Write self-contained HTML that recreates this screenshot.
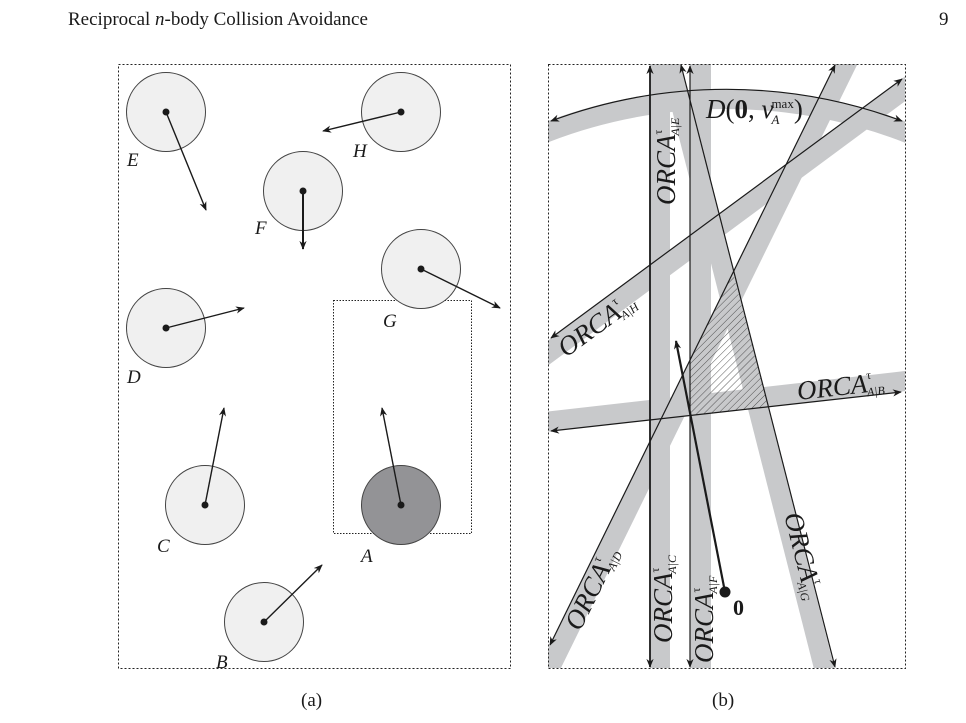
<!DOCTYPE html>
<html><head><meta charset="utf-8"><style>
html,body{margin:0;padding:0;background:#fff;width:966px;height:723px;overflow:hidden;}
svg{display:block;}
text{font-family:"Liberation Serif",serif;fill:#1a1a1a;}
</style></head><body>
<svg width="966" height="723" viewBox="0 0 966 723" xmlns="http://www.w3.org/2000/svg" overflow="hidden">
<defs>
<marker id="ah" viewBox="0 0 10 10" refX="9" refY="5" markerWidth="9" markerHeight="9" markerUnits="userSpaceOnUse" orient="auto-start-reverse">
<path d="M0,1 L10,5 L0,9 L3,5 z" fill="#1a1a1a"/></marker>
<pattern id="hatch" width="5" height="5" patternUnits="userSpaceOnUse" patternTransform="rotate(45)">
<line x1="0" y1="0" x2="0" y2="5" stroke="#333" stroke-width="0.8"/></pattern>
<clipPath id="rc"><rect x="548" y="64" width="357" height="604"/></clipPath>
</defs>

<text x="68" y="25" font-size="19">Reciprocal <tspan font-style="italic">n</tspan>-body Collision Avoidance</text>
<text x="939" y="25" font-size="19">9</text>

<!-- left panel -->
<rect x="118.5" y="64.5" width="392" height="604" fill="none" stroke="#222" stroke-dasharray="2,2"/>
<rect x="333.5" y="300.5" width="138" height="233" fill="none" stroke="#222" stroke-dasharray="1.5,1.5"/>
<g stroke="#444" stroke-width="1" fill="#f0f0f0">
<circle cx="166" cy="112" r="39.5"/>
<circle cx="401" cy="112" r="39.5"/>
<circle cx="303" cy="191" r="39.5"/>
<circle cx="421" cy="269" r="39.5"/>
<circle cx="166" cy="328" r="39.5"/>
<circle cx="205" cy="505" r="39.5"/>
<circle cx="401" cy="505" r="39.5" fill="#939396"/>
<circle cx="264" cy="622" r="39.5"/>
</g>
<g stroke="#1a1a1a" stroke-width="1.4" marker-end="url(#ah)">
<line x1="166" y1="112" x2="206" y2="210"/>
<line x1="401" y1="112" x2="323" y2="131"/>
<line x1="303" y1="191" x2="303" y2="249" stroke-width="2"/>
<line x1="421" y1="269" x2="500" y2="308"/>
<line x1="166" y1="328" x2="244" y2="308"/>
<line x1="205" y1="505" x2="224" y2="408"/>
<line x1="401" y1="505" x2="382" y2="408"/>
<line x1="264" y1="622" x2="322" y2="565"/>
</g>
<g fill="#1a1a1a">
<circle cx="166" cy="112" r="3.5"/><circle cx="401" cy="112" r="3.5"/><circle cx="303" cy="191" r="3.5"/>
<circle cx="421" cy="269" r="3.5"/><circle cx="166" cy="328" r="3.5"/><circle cx="205" cy="505" r="3.5"/>
<circle cx="401" cy="505" r="3.5"/><circle cx="264" cy="622" r="3.5"/>
</g>
<g font-size="19" font-style="italic">
<text x="127" y="166">E</text><text x="353" y="157">H</text><text x="255" y="234">F</text>
<text x="383" y="327">G</text><text x="127" y="383">D</text><text x="157" y="552">C</text>
<text x="361" y="562">A</text><text x="216" y="668">B</text>
</g>
<text x="301" y="706" font-size="19">(a)</text>
<text x="712" y="706" font-size="19">(b)</text>

<!-- right panel -->
<g clip-path="url(#rc)" fill="none" stroke="#c8c9cb">
<circle cx="726" cy="601" r="502" stroke-width="20"/>
<line x1="660" y1="0" x2="660" y2="723" stroke-width="20"/>
<line x1="700.5" y1="0" x2="700.5" y2="723" stroke-width="21"/>
<line x1="659" y1="18" x2="837" y2="719" stroke-width="20"/>
<line x1="866" y1="24" x2="537" y2="694" stroke-width="20"/>
<line x1="517" y1="376" x2="948" y2="57" stroke-width="20"/>
<line x1="500" y1="427" x2="950" y2="376" stroke-width="20"/>
</g>
<polygon points="733,273 768,407 690,415.5 690,360" fill="url(#hatch)"/>
<g fill="none" stroke="#1a1a1a" stroke-width="1.2" marker-start="url(#ah)" marker-end="url(#ah)">
<path d="M551,121 A502,502 0 0 1 902,121"/>
<line x1="650" y1="66" x2="650" y2="667" stroke-width="1.8"/>
<line x1="690" y1="66" x2="690" y2="667"/>
<line x1="681" y1="65" x2="835" y2="667"/>
<line x1="835" y1="65" x2="550" y2="645"/>
<line x1="551" y1="338" x2="902" y2="79"/>
<line x1="551" y1="431" x2="901" y2="392"/>
</g>
<line x1="725" y1="592" x2="676" y2="341" stroke="#1a1a1a" stroke-width="2.2" marker-end="url(#ah)"/>
<circle cx="725" cy="592" r="5.5" fill="#1a1a1a"/>
<text x="733" y="615" font-size="22" font-weight="bold">0</text>

<text x="706" y="118" font-size="27" font-style="italic">D<tspan font-style="normal">(</tspan><tspan font-style="normal" font-weight="bold">0</tspan><tspan font-style="normal">, </tspan>v<tspan font-size="13" dy="6" dx="-2">A</tspan><tspan font-size="13" font-style="normal" dy="-16" dx="-8">max</tspan><tspan font-style="normal" dy="10">)</tspan></text>

<g font-size="27" font-style="italic">
<text transform="translate(675,205) rotate(-90)">ORCA<tspan font-size="12" font-style="normal" dy="-13">τ</tspan><tspan font-size="12" dy="17" dx="-6">A|E</tspan></text>
<text transform="translate(672,643) rotate(-90)">ORCA<tspan font-size="12" font-style="normal" dy="-13">τ</tspan><tspan font-size="12" dy="17" dx="-6">A|C</tspan></text>
<text transform="translate(713,663) rotate(-90)">ORCA<tspan font-size="12" font-style="normal" dy="-13">τ</tspan><tspan font-size="12" dy="17" dx="-6">A|F</tspan></text>
<text transform="translate(566,358) rotate(-36.4)">ORCA<tspan font-size="12" font-style="normal" dy="-13">τ</tspan><tspan font-size="12" dy="17" dx="-6">A|H</tspan></text>
<text transform="translate(798,400) rotate(-6.4)">ORCA<tspan font-size="12" font-style="normal" dy="-13">τ</tspan><tspan font-size="12" dy="17" dx="-6">A|B</tspan></text>
<text transform="translate(580,632) rotate(-63.8)">ORCA<tspan font-size="12" font-style="normal" dy="-13">τ</tspan><tspan font-size="12" dy="17" dx="-6">A|D</tspan></text>
<text transform="translate(784,515) rotate(75.7)">ORCA<tspan font-size="12" font-style="normal" dy="-13">τ</tspan><tspan font-size="12" dy="17" dx="-6">A|G</tspan></text>
</g>
<rect x="548.5" y="64.5" width="357" height="604" fill="none" stroke="#222" stroke-dasharray="2,2"/>
</svg>
</body></html>
